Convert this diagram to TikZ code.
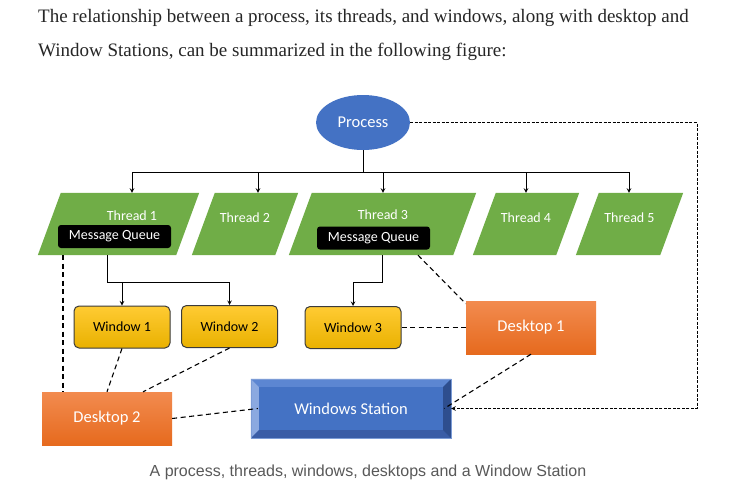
\documentclass[tikz,border=0pt]{standalone}
\usepackage{fontspec}
\setmainfont{Liberation Serif}
\newfontfamily\calibri{Carlito}
\newfontfamily\arialfont{Liberation Sans}
\usetikzlibrary{shapes.geometric}
\definecolor{pblue}{HTML}{4472C4}
\definecolor{tgreen}{HTML}{70AD47}
\definecolor{wtop}{HTML}{FFCB33}
\definecolor{wbot}{HTML}{E9B100}
\definecolor{wborder}{HTML}{3B3B3B}
\definecolor{dtop}{HTML}{F28B4F}
\definecolor{dbot}{HTML}{E66A1E}
\definecolor{wstop}{HTML}{5C86D2}
\definecolor{wsleft}{HTML}{8BA9E0}
\definecolor{wsbot}{HTML}{3A5DA6}
\definecolor{wsright}{HTML}{2E4E8E}
\definecolor{captgray}{HTML}{595959}
\begin{document}
\begin{tikzpicture}[x=1pt,y=-1pt,>=stealth,
  txt/.style={font=\calibri\fontsize{14}{16}\selectfont,text=white,inner sep=0},
  big/.style={font=\calibri\fontsize{16.5}{18}\selectfont},
  intro/.style={anchor=base west,inner sep=0,text=black!85,font=\fontsize{19}{22}\selectfont},
  thread/.style={inner sep=0,minimum height=62},
  queue/.style={txt,fill=black,rounded corners=3,minimum width=113,minimum height=23},
  window/.style={txt,text=black,draw=wborder,line width=1pt,rounded corners=5,top color=wtop,bottom color=wbot,minimum width=96,minimum height=42},
  desk/.style={txt,big,top color=dtop,bottom color=dbot,minimum width=130,minimum height=53},
  link/.style={line width=1pt},
  dline/.style={dash pattern=on 5pt off 3.5pt,line width=1.1pt},
  dloop/.style={dash pattern=on 3pt off 1.5pt,line width=1pt}]
\fill[white](0,0)rectangle(739,490);
\useasboundingbox(0,0)rectangle(739,490);
\node at (38,22)[intro](intro1){The relationship between a process, its threads, and windows, along with desktop and};
\node at (38,56)[intro](intro2){Window Stations, can be summarized in the following figure:};
\node at (363,122.5)[ellipse,fill=pblue,txt,big,minimum width=94,minimum height=55](p){Process};
\foreach \n/\x/\w in {1/118.5/161,2/245/106,3/382.5/187,4/526/106,5/629.5/107}
{
    \node at (\x,224)[thread,minimum width=\w](t\n){};
    \fill[tgreen](t\n.south west)--([xshift=23]t\n.north west)--(t\n.north east)--([xshift=-23]t\n.south east)--cycle;
}
\foreach \n/\x/\y in {1/132/216,2/245/218,3/383/215,4/526/218,5/629.5/218}
{
    \node at (\x,\y)[txt](l\n){Thread \n};
}
\node at (114.5,236.5)[queue](m1){Message Queue};
\node at (373.5,238)[queue](m3){Message Queue};
\node at (122,327)[window](w1){Window 1};
\node at (229.5,326.5)[window](w2){Window 2};
\node at (353,327.5)[window](w3){Window 3};
\node at (531,327.5)[desk](d1){Desktop 1};
\node at (107,418.5)[desk](d2){Desktop 2};
\node at (351,408.5)[txt,big,fill=pblue,minimum width=200,minimum height=59](ws){Windows Station};
\fill[wstop](ws.north west)--(ws.north east)--([xshift=-8,yshift=-8]ws.north east)--([xshift=8,yshift=-8]ws.north west)--cycle;
\fill[wsleft](ws.north west)--([xshift=8,yshift=-8]ws.north west)--([xshift=8,yshift=8]ws.south west)--(ws.south west)--cycle;
\fill[wsbot](ws.south west)--([xshift=8,yshift=8]ws.south west)--([xshift=-8,yshift=8]ws.south east)--(ws.south east)--cycle;
\fill[wsright](ws.south east)--([xshift=-8,yshift=8]ws.south east)--([xshift=-8,yshift=-8]ws.north east)--(ws.north east)--cycle;
\draw[pblue!70!white,line width=.6pt](ws.north west)rectangle(ws.south east);
\coordinate (bus) at (363,172);
\draw[link](p)--(bus);
\foreach \t/\s in {t1/13.5,t2/13,t3/0.5,t4/0,t5/-0.5}
{
    \draw[link,->](bus)-|([xshift=\s]\t.north);
}
\coordinate (j1) at (107.5,282);
\draw[link,->]([xshift=-11]t1.south)--(j1)-|(w2.north);
\draw[link,->](j1-|w1.north)--(w1.north);
\draw[link,->](t3.south)--++(0,27)-|(w3.north);
\coordinate (rt) at (697,122.5);
\draw[dloop,->](p.east)--(rt)|-(ws.east);
\draw[dline]([xshift=-55.5]t1.south)--([xshift=-44]d2.north);
\draw[dline]([xshift=35.5]t3.south)--([yshift=-3]d1.north west);
\draw[dline](w3.east)--(d1.west);
\draw[dline](d1.south)--([xshift=-7]ws.east);
\draw[dline](w1.south)--(d2.north);
\draw[dline](w2.south)--([xshift=36]d2.north);
\draw[dline](d2.east)--([xshift=7]ws.west);
\node at (368,472)[font=\arialfont\fontsize{16}{18}\selectfont,text=captgray,inner sep=0](cap){A process, threads, windows, desktops and a Window Station};
\end{tikzpicture}
\end{document}
